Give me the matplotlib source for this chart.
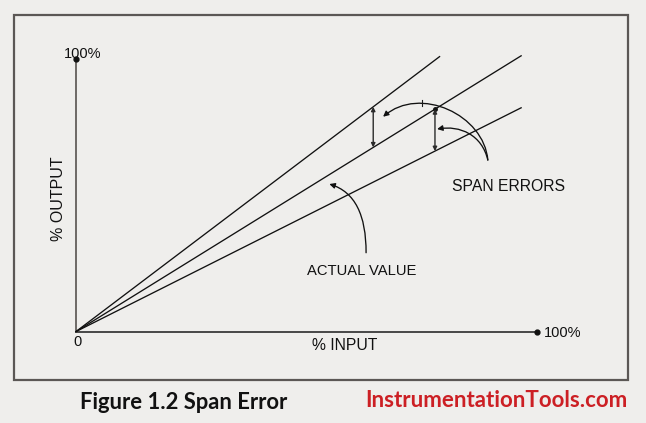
import matplotlib
matplotlib.use("Agg")
import matplotlib.pyplot as plt
import numpy as np
from matplotlib.path import Path
from matplotlib.patches import FancyArrowPatch, Rectangle

# Datos de las tres rectas (fin de cada recta, en % de entrada / salida)
line_names = ["alta", "real", "baja"]
line_x_end = [78.9, 96.6, 96.6]
line_y_end = [101.0, 101.3, 82.2]

# Posiciones (en % de entrada) de las flechas de error de span
err_x = [64.5, 77.9]
err_pairs = [(1, 0), (2, 1)]  # (recta inferior, recta superior)

axis_max = 100

#Fuente
plt.rcParams["font.family"] = ["Liberation Sans", "DejaVu Sans"]

bg = "#efeeec"
fig = plt.figure(figsize=(6.46, 4.23), dpi=100, facecolor=bg)
ax = fig.add_axes([0, 0, 1, 1])
ax.set_facecolor(bg)
ax.set_xlim(-16.5, 123.7)
ax.set_ylim(-33.6, 121.8)
ax.axis("off")

# Marco
ax.add_patch(Rectangle((-13.5, -17.8), 133.25, 134.2, fill=False,
                       edgecolor="#5b5755", linewidth=1.6))

# Ejes
ax.plot([0, axis_max], [0, 0], color="#1a1a1a", lw=1.1)
ax.plot([0, 0], [0, axis_max], color="#4a4542", lw=1.1)
ax.plot([axis_max], [0], "o", color="#111111", ms=3.5)
ax.plot([0], [axis_max], "o", color="#111111", ms=3.5)

# Rectas
slopes = [y / x for x, y in zip(line_x_end, line_y_end)]
for xe, ye in zip(line_x_end, line_y_end):
    ax.plot([0, xe], [0, ye], color="#111111", lw=0.95)

# Flechas de error
for xe, (lo, hi) in zip(err_x, err_pairs):
    ax.annotate("", xy=(xe, slopes[hi] * xe), xytext=(xe, slopes[lo] * xe),
                arrowprops=dict(arrowstyle="<|-|>", color="#2a2a2a",
                                lw=1.0, mutation_scale=6,
                                shrinkA=0, shrinkB=0))
ax.plot([err_x[1]], [slopes[1] * err_x[1]], "o", color="#111111", ms=2.5)

# Flechas curvas
def curved(pts, style="-|>"):
    path = Path(pts, [Path.MOVETO, Path.CURVE4, Path.CURVE4, Path.CURVE4])
    ax.add_patch(FancyArrowPatch(path=path, arrowstyle=style,
                                 mutation_scale=8, color="#111111", lw=0.95))

curved([(89.37, 63.0), (88.56, 79.55), (74.67, 90.56), (66.64, 78.91)])
curved([(89.37, 63.0), (88.13, 72.19), (83.35, 75.86), (78.36, 74.39)])
curved([(62.95, 28.95), (62.95, 42.80), (60.56, 51.25), (54.98, 54.19)])
ax.plot([75.0, 75.0], [82.8, 85.0], color="#1a1a1a", lw=0.8)

# Textos
tc = "#111111"
ax.text(1.52, 102.1, "100%", ha="center", va="center", fontsize=10.5, color=tc)
ax.text(101.6, -0.55, "100%", ha="left", va="center", fontsize=10.5, color=tc)
ax.text(0.37, -3.97, "0", ha="center", va="center", fontsize=10.5, color=tc)
ax.text(58.2, -5.2, "% INPUT", ha="center", va="center", fontsize=11.3, color=tc)
ax.text(-3.84, 48.7, "% OUTPUT", ha="center", va="center", fontsize=11.5,
        rotation=90, color=tc)
ax.text(62.0, 22.2, "ACTUAL VALUE", ha="center", va="center", fontsize=10.6, color=tc)
ax.text(93.8, 53.45, "SPAN ERRORS", ha="center", va="center", fontsize=11.3, color=tc)

# Pie de figura
fig.text(183.7 / 646, 1 - 402 / 423, "Figure 1.2 Span Error", ha="center",
         va="center", fontsize=15.8, fontweight="bold", family="Lato", color="#111111")
fig.text(496.7 / 646, 1 - 400.5 / 423, "InstrumentationTools.com", ha="center",
         va="center", fontsize=16, fontweight="bold", family="Lato", color="#cc1f24")

fig.savefig("out.png", dpi=100, facecolor=bg)
